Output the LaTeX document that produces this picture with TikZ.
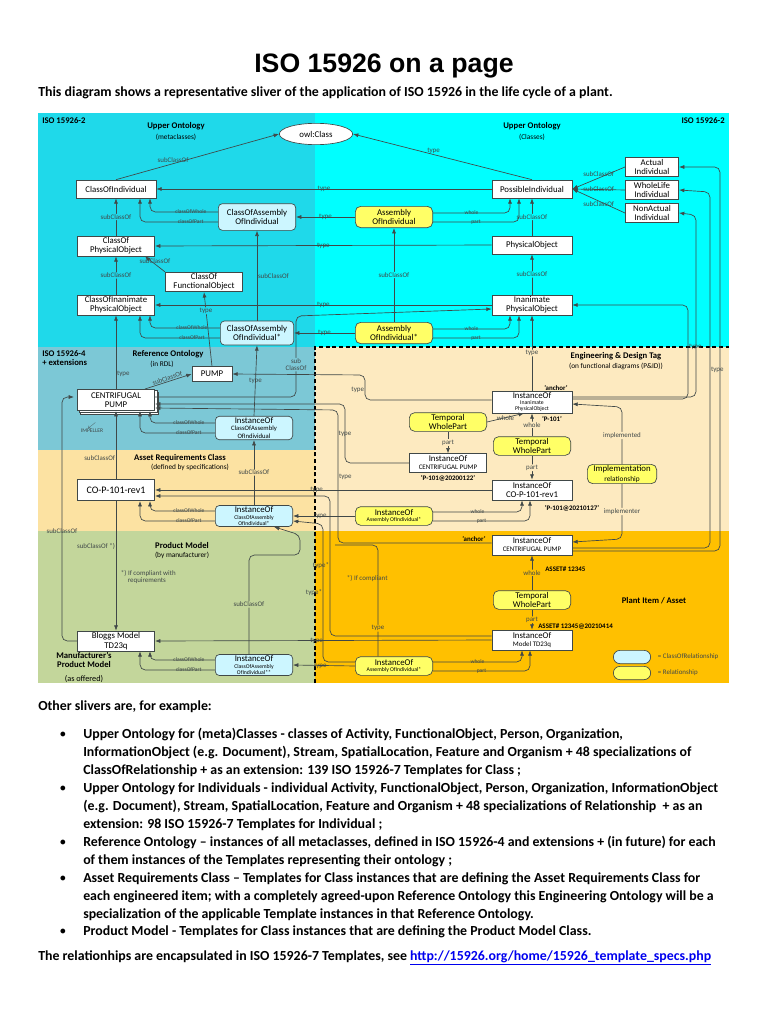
\documentclass[tikz,border=0pt]{standalone}
\usepackage{fontspec}
\setmainfont{Carlito}
\newfontfamily\titlefont{Liberation Sans}
\usetikzlibrary{arrows.meta,calc,shapes.geometric}
\definecolor{cyanL}{HTML}{1FD9EA}
\definecolor{cyanR}{HTML}{00FFFF}
\definecolor{refc}{HTML}{7CC8D6}
\definecolor{asrc}{HTML}{FCE2A2}
\definecolor{prodc}{HTML}{C3D69B}
\definecolor{engc}{HTML}{FDEAC0}
\definecolor{plantc}{HTML}{FFC000}
\definecolor{clsrel}{HTML}{CCF6FF}
\definecolor{relc}{HTML}{FFFF66}
\definecolor{lnc}{HTML}{404848}
\definecolor{linkc}{HTML}{0000EE}
\tikzset{
 base/.style={align=center,font=\fontsize{6.6}{7}\selectfont,inner sep=1pt,line width=0.5pt,draw=lnc},
 bx/.style 2 args={base,fill=white,minimum width=#1,minimum height=#2},
 cr/.style 2 args={base,fill=clsrel,rounded corners=3pt,minimum width=#1,minimum height=#2},
 rl/.style 2 args={base,fill=relc,rounded corners=4pt,minimum width=#1,minimum height=#2},
 ar/.style={draw=lnc,line width=0.5pt,-{Latex[length=4pt,width=3pt]},rounded corners=4pt},
 ln/.style={draw=lnc,line width=0.5pt,rounded corners=4pt},
 lb/.style={font=\fontsize{5.2}{5.5}\selectfont,text=lnc,inner sep=0.5pt},
 sl/.style={font=\fontsize{4.2}{4.5}\selectfont,text=lnc,inner sep=0.5pt},
 hd/.style={font=\bfseries\fontsize{6.5}{7}\selectfont,align=center,inner sep=0pt},
 sh/.style={font=\fontsize{5.5}{6}\selectfont,align=center,inner sep=0pt},
 bt/.style={anchor=west,font=\bfseries\fontsize{10.4}{12}\selectfont,inner sep=0pt},
 bul/.style={font=\fontsize{9}{10}\selectfont,inner sep=0pt},
}
\begin{document}
\begin{tikzpicture}[x=0.75pt,y=-0.75pt]
\useasboundingbox (0,0) rectangle (768,1024);
% backgrounds
\fill[cyanL] (38,113) rectangle (315,347);
\fill[cyanR] (315,113) rectangle (729,347);
\fill[refc] (38,347) rectangle (315,450);
\fill[asrc] (38,450) rectangle (315,531);
\fill[prodc] (38,531) rectangle (315,683);
\fill[engc] (315,347) rectangle (729,531);
\fill[plantc] (315,531) rectangle (729,683);
\draw[line width=1.8pt,dash pattern=on 3pt off 2pt] (315,683) -- (315,347) -- (729,347);
% title
\node[font=\titlefont\bfseries\fontsize{20}{22}\selectfont] (title) at (384,66) {ISO 15926 on a page};
\node[bt] (sub) at (38,93) {This diagram shows a representative sliver of the application of ISO 15926 in the life cycle of a plant.};
% body text
\node[bt] (t0) at (38,707) {Other slivers are, for example:};
\node[bul] (b1) at (63,735) {$\bullet$};
\node[bt] (t1a) at (83,735) {Upper Ontology for (meta)Classes - classes of Activity, FunctionalObject, Person, Organization,};
\node[bt] (t1b) at (83,753) {InformationObject (e.g. Document), Stream, SpatialLocation, Feature and Organism + 48 specializations of};
\node[bt] (t1c) at (83,771) {ClassOfRelationship + as an extension: 139 ISO 15926-7 Templates for Class ;};
\node[bul] (b2) at (63,789) {$\bullet$};
\node[bt] (t2a) at (83,789) {Upper Ontology for Individuals - individual Activity, FunctionalObject, Person, Organization, InformationObject};
\node[bt] (t2b) at (83,807) {(e.g. Document), Stream, SpatialLocation, Feature and Organism + 48 specializations of Relationship\ \ + as an};
\node[bt] (t2c) at (83,825) {extension: 98 ISO 15926-7 Templates for Individual ;};
\node[bul] (b3) at (63,843) {$\bullet$};
\node[bt] (t3a) at (83,843) {Reference Ontology -- instances of all metaclasses, defined in ISO 15926-4 and extensions + (in future) for each};
\node[bt] (t3b) at (83,861) {of them instances of the Templates representing their ontology ;};
\node[bul] (b4) at (63,879) {$\bullet$};
\node[bt] (t4a) at (83,879) {Asset Requirements Class -- Templates for Class instances that are defining the Asset Requirements Class for};
\node[bt] (t4b) at (83,897) {each engineered item; with a completely agreed-upon Reference Ontology this Engineering Ontology will be a};
\node[bt] (t4c) at (83,915) {specialization of the applicable Template instances in that Reference Ontology.};
\node[bul] (b5) at (63,932) {$\bullet$};
\node[bt] (t5a) at (83,932) {Product Model - Templates for Class instances that are defining the Product Model Class.};
\node[bt] (t6) at (38,958) {The relationhips are encapsulated in ISO 15926-7 Templates, see \textcolor{linkc}{\underline{http://15926.org/home/15926\_template\_specs.php}}};
% region headers
\node[hd,anchor=north west] (h1) at (42,117) {ISO 15926-2};
\node[hd,anchor=north east] (h2) at (725,117) {ISO 15926-2};
\node[hd] (h3) at (176,126) {Upper Ontology};
\node[sh] (h3b) at (176,137) {(metaclasses)};
\node[hd] (h4) at (532,126) {Upper Ontology};
\node[sh] (h4b) at (532,137) {(Classes)};
\node[hd,anchor=north west,align=left] (h5) at (42,350) {ISO 15926-4\\+ extensions};
\node[hd] (h6) at (168,354) {Reference Ontology};
\node[sh] (h6b) at (162,364) {(in RDL)};
\node[hd] (h7) at (180,458) {Asset Requirements Class};
\node[sh] (h7b) at (190,467) {(defined by specifications)};
\node[hd] (h8) at (182,545) {Product Model};
\node[sh] (h8b) at (182,555) {(by manufacturer)};
\node[hd] (h9) at (84,660) {Manufacturer's\\Product Model};
\node[sh,font=\fontsize{6.2}{7}\selectfont] (h9b) at (84,679) {(as offered)};
\node[hd] (h10) at (616,356) {Engineering \& Design Tag};
\node[sh] (h10b) at (616,366) {(on functional diagrams (P\&ID))};
\node[hd] (h11) at (654,601) {Plant Item / Asset};
% upper left
\node[base,ellipse,fill=white,minimum width=55pt,minimum height=16pt] (owl) at (316,134) {owl:Class};
\node[bx={60pt}{13.5pt}] (coi) at (116,189) {ClassOfIndividual};
\node[cr={58pt}{20pt}] (coa) at (257,217) {ClassOfAssembly\\OfIndividual};
\node[bx={58pt}{15pt}] (cpo) at (116,246) {ClassOf\\PhysicalObject};
\node[bx={58pt}{14pt}] (cfo) at (204,282) {ClassOf\\FunctionalObject};
\node[bx={58pt}{15pt}] (cio) at (116,305) {ClassOfInanimate\\PhysicalObject};
\node[cr={55pt}{18pt}] (coas) at (257,333) {ClassOfAssembly\\OfIndividual*};
% upper right
\node[rl={58pt}{16pt}] (aoi) at (394,217) {Assembly\\OfIndividual};
\node[rl={58pt}{16pt}] (aois) at (394,333) {Assembly\\OfIndividual*};
\node[bx={60pt}{13.5pt}] (pi) at (532,189) {PossibleIndividual};
\node[bx={60pt}{13.5pt}] (po) at (532,245) {PhysicalObject};
\node[bx={60pt}{15pt}] (ipo) at (532,305) {Inanimate\\PhysicalObject};
\node[bx={40pt}{14pt}] (act) at (652,167) {Actual\\Individual};
\node[bx={40pt}{14pt}] (wli) at (652,190) {WholeLife\\Individual};
\node[bx={40pt}{14pt}] (nai) at (652,213) {NonActual\\Individual};
% reference
\node[bx={30pt}{11pt}] (pump) at (212,374) {PUMP};
\fill[white,draw=lnc,line width=0.4pt] (80,392) rectangle (158,414);
\fill[white,draw=lnc,line width=0.4pt] (79,390) rectangle (157,412);
\node[bx={58pt}{16pt}] (cp) at (116,400) {CENTRIFUGAL\\PUMP};
\node[sl,align=center] (imp) at (92,428) {$\swarrow$\\[-1pt]IMPELLER};
\node[cr={58pt}{14pt},font=\fontsize{5}{5.5}\selectfont] (ico) at (254,428) {{\fontsize{6.6}{7}\selectfont InstanceOf}\\ClassOfAssembly\\OfIndividual};
% asset req
\node[bx={58pt}{16pt},font=\fontsize{7.5}{8}\selectfont] (cop) at (116,490) {CO-P-101-rev1};
\node[cr={58pt}{14pt},font=\fontsize{4.3}{4.6}\selectfont] (icos) at (254,516) {{\fontsize{6.6}{7}\selectfont InstanceOf}\\ClassOfAssembly\\OfIndividual*};
% product
\node[bx={58pt}{15pt}] (blg) at (116,641) {Bloggs Model\\TD23q};
\node[cr={58pt}{14pt},font=\fontsize{4.3}{4.6}\selectfont] (icoss) at (254,665) {{\fontsize{6.6}{7}\selectfont InstanceOf}\\ClassOfAssembly\\OfIndividual**};
\node[lb,align=left,anchor=north west] (comp1) at (120,569) {*) If compliant with\\\quad requirements};
% engineering
\node[bx={60pt}{14pt},font=\fontsize{4.3}{4.6}\selectfont] (ioi) at (532,402) {{\fontsize{6.6}{7}\selectfont InstanceOf}\\Inanimate\\PhysicalObject};
\node[rl={58pt}{14pt}] (twp1) at (448,422) {Temporal\\WholePart};
\node[rl={58pt}{14pt}] (twp2) at (532,446) {Temporal\\WholePart};
\node[bx={58pt}{14pt},font=\fontsize{5.2}{6}\selectfont] (iocp) at (448,463) {{\fontsize{6.6}{7}\selectfont InstanceOf}\\CENTRIFUGAL PUMP};
\node[bx={60pt}{15pt}] (ioco) at (532,490) {InstanceOf\\CO-P-101-rev1};
\node[rl={52pt}{14pt}] (imr) at (622,474) {Implementation\\{\fontsize{5.5}{6}\selectfont relationship}};
\node[rl={58pt}{14pt},font=\fontsize{4.3}{4.6}\selectfont] (ias) at (394,516) {{\fontsize{6.6}{7}\selectfont InstanceOf}\\Assembly OfIndividual*};
\node[hd,font=\bfseries\fontsize{5.2}{6}\selectfont] (anc1) at (556,388) {'anchor'};
\node[hd,font=\bfseries\fontsize{5.2}{6}\selectfont] (p101) at (552,419) {'P-101'};
\node[hd,font=\bfseries\fontsize{5.2}{6}\selectfont] (p1a) at (448,478) {'P-101@20200122'};
\node[hd,font=\bfseries\fontsize{5.2}{6}\selectfont] (p1b) at (572,508) {'P-101@20210127'};
% plant
\node[bx={60pt}{15pt},font=\fontsize{5.2}{6}\selectfont] (pcp) at (532,545) {{\fontsize{6.6}{7}\selectfont InstanceOf}\\CENTRIFUGAL PUMP};
\node[rl={58pt}{14pt}] (twp3) at (532,600) {Temporal\\WholePart};
\node[bx={60pt}{15pt},font=\fontsize{5.2}{6}\selectfont] (pm) at (532,640) {{\fontsize{6.6}{7}\selectfont InstanceOf}\\Model TD23q};
\node[rl={58pt}{14pt},font=\fontsize{4.3}{4.6}\selectfont] (pas) at (394,666) {{\fontsize{6.6}{7}\selectfont InstanceOf}\\Assembly OfIndividual*};
\node[hd,font=\bfseries\fontsize{5.2}{6}\selectfont] (anc2) at (474,539) {'anchor'};
\node[hd,font=\bfseries\fontsize{5.2}{6}\selectfont,anchor=west] (as1) at (545,569) {ASSET\# 12345};
\node[hd,font=\bfseries\fontsize{5.2}{6}\selectfont,anchor=west] (as2) at (538,627) {ASSET\# 12345@20210414};
\node[lb,anchor=west] (comp2) at (346,579) {*) If compliant};
% legend
\node[cr={28pt}{10pt},rounded corners=5pt] (lg1) at (632,657) {};
\node[rl={28pt}{10pt},rounded corners=5pt] (lg2) at (632,673) {};
\node[lb,anchor=west] (lg1t) at (657,657) {= ClassOfRelationship};
\node[lb,anchor=west] (lg2t) at (657,673) {= Relationship};

% ===== connectors upper
\draw[ar] (coi.north) -- node[lb,pos=0.35,above] {subClassOf} (owl.west);
\draw[ar] (pi.north) -- node[lb,pos=0.55,above] {type} (owl.east);
\draw[ar] (pi.west) -- node[lb,pos=0.5] {type} (coi.east);
\draw[ar] (aoi.west) -- node[lb] {type} (coa.east);
\draw[ar] (po.west) -- node[lb,pos=0.5] {type} (cpo.east);
\draw[ar] (ipo.west) -- node[lb,pos=0.5] {type} (cio.east);
\draw[ar] (aois.west) -- node[lb] {type} (coas.east);
\draw[ar] (cpo.north) -- node[lb,fill=cyanL] {subClassOf} (coi.south);
\draw[ar] (cio.north) -- node[lb,fill=cyanL] {subClassOf} (cpo.south);
\draw[ar] (cfo.north west) -- node[lb,above] {subClassOf} ($(cpo.south east)+(-10,0)$);
\draw[ar] ($(coa.west)+(0,-5)$) -- node[sl,pos=0.4] {classOfWhole} (150,212) -- ($(coi.south)+(34,0)$);
\draw[ar] ($(coa.west)+(0,5)$) -- node[sl,pos=0.35] {classOfPart} (140,222) -- ($(coi.south)+(24,0)$);
\draw[ar] ($(coas.west)+(0,-5)$) -- node[sl,pos=0.4] {classOfWhole} (150,328) -- ($(cio.south)+(34,0)$);
\draw[ar] ($(coas.west)+(0,5)$) -- node[sl,pos=0.35] {classOfPart} (140,338) -- ($(cio.south)+(24,0)$);
\draw[ar] (coas.north) -- node[lb,pos=0.5,right] {subClassOf} (coa.south);
\draw[ar] (aois.north) -- node[lb,fill=cyanR] {subClassOf} (aoi.south);
\draw[ar] (po.north) -- node[lb,fill=cyanR] {subClassOf} (pi.south);
\draw[ar] (ipo.north) -- node[lb,fill=cyanR] {subClassOf} (po.south);
\draw[ar] (act.west) -- node[lb,above] {subClassOf} (pi.east);
\draw[ar] (wli.west) -- node[lb] {subClassOf} (pi.east);
\draw[ar] (nai.west) -- node[lb,below] {subClassOf} (pi.east);
\draw[ar] ($(aoi.east)+(0,-4)$) -- node[sl] {whole} (510,213) -- ($(pi.south)+(-22,0)$);
\draw[ar] ($(aoi.east)+(0,5)$) -- node[sl] {part} (519,222) -- ($(pi.south)+(-13,0)$);
\draw[ar] ($(aois.east)+(0,-4)$) -- node[sl] {whole} (510,329) -- ($(ipo.south)+(-22,0)$);
\draw[ar] ($(aois.east)+(0,5)$) -- node[sl] {part} (519,338) -- ($(ipo.south)+(-13,0)$);
% reference
\draw[ar] (pump.north) -- node[lb,fill=cyanL,pos=0.75] {type} (cfo.south);
\draw[ar] ($(cp.north east)+(-10,0)$) -- node[lb,above,sloped] {subClassOf} (pump.west);
\draw[ar] (cp.north) -- node[lb,pos=0.2,right] {type} (cio.south);
\draw[ar] (ico.north) -- node[lb,pos=0.5] {type} (coas.south);
\draw[ar] ($(cp.east)+(0,-3)$) -- (296,397) -- node[lb,pos=0.4,align=center,fill=refc] {sub\\ClassOf} (296,316) -- ($(ipo.west)+(0,4)$);
\draw[ar] ($(ico.west)+(0,-5)$) -- node[sl,pos=0.4] {classOfWhole} (150,423) -- ($(cp.south)+(34,0)$);
\draw[ar] ($(ico.west)+(0,5)$) -- node[sl,pos=0.35] {classOfPart} (140,433) -- ($(cp.south)+(24,0)$);
\draw[ar] (icos.north) -- node[lb,fill=asrc] {subClassOf} (ico.south);
\draw[ar] (cop.north) -- node[lb,pos=0.3,left] {subClassOf} (cp.south);
\draw[ar] ($(icos.west)+(0,-5)$) -- node[sl,pos=0.4] {classOfWhole} (150,511) -- ($(cop.south)+(34,0)$);
\draw[ar] ($(icos.west)+(0,5)$) -- node[sl,pos=0.35] {classOfPart} (140,521) -- ($(cop.south)+(24,0)$);
\draw[ar] (cop.south) -- node[lb,pos=0.35,left] {subClassOf *)} (blg.north);
\draw[ar] (blg.west) -- (62,641) -- node[lb,pos=0.45] {subClassOf} (62,397) -- ($(cp.west)+(-3,-3)$);
\draw[ar] ($(icoss.north)+(-5,0)$) -- node[lb,fill=prodc] {subClassOf} (249,555) -- (300,555) -- (300,535) -- ($(icos.south)+(20,0)$);
\draw[ar] ($(icoss.west)+(0,-5)$) -- node[sl,pos=0.4] {classOfWhole} (150,660) -- ($(blg.south)+(34,0)$);
\draw[ar] ($(icoss.west)+(0,5)$) -- node[sl,pos=0.35] {classOfPart} (140,670) -- ($(blg.south)+(24,0)$);
% engineering
\draw[ar] (ioi.north) -- node[lb,fill=engc] {type} (ipo.south);
\draw[ar] ($(ioi.west)+(0,-2)$) -- (365,400) -- node[lb,pos=0.4,left] {type} (365,375) -- (pump.east);
\draw[ar] ($(iocp.west)+(0,0)$) -- (345,463) -- node[lb,pos=0.5] {type} (345,404) -- ($(cp.east)+(0,4)$);
\draw[ar] (twp1.east) -- node[lb] {whole} ($(ioi.south)+(-8,0)$);
\draw[ar] (twp1.south) -- node[lb,fill=engc] {part} (iocp.north);
\draw[ar] (twp2.north) -- node[lb,fill=engc] {whole} (ioi.south);
\draw[ar] (twp2.south) -- node[lb,fill=engc] {part} (ioco.north);
\draw[ar] (ioco.west) -- node[lb,pos=0.52] {type} (cop.east);
\draw[ar] (ias.west) -- node[lb,pos=0.56] {type} (icos.east);
\draw[ar] ($(ias.east)+(0,-4)$) -- node[sl] {whole} (522,512) -- ($(ioco.south)+(-10,0)$);
\draw[ar] ($(ias.east)+(0,5)$) -- node[sl] {part} (530,521) -- ($(ioco.south)+(-2,0)$);
\draw[ar] (imr.north) -- node[lb,fill=engc] {implemented} (622,407) -- ($(ioi.east)+(0,2)$);
\draw[ar] (imr.south) -- node[lb,fill=engc] {implementer} (622,539) -- ($(pcp.east)+(0,-3)$);
\draw[ar] ($(ioi.east)+(0,-3)$) -- (688,399) -- node[lb,pos=0.55,right] {type} (688,305) -- (ipo.east);
\draw[ar] ($(ioi.east)+(0,-5)$) -- (696,397) -- (696,215) -- (nai.east);
% plant
\draw[ar] (twp3.north) -- node[lb,fill=plantc] {whole} (pcp.south);
\draw[ar] (twp3.south) -- node[lb,fill=plantc] {part} (pm.north);
\draw[ar] (pm.west) -- node[lb,pos=0.52] {type} (blg.east);
\draw[ar] (pas.west) -- node[lb,pos=0.56] {type} (icoss.east);
\draw[ar] ($(pas.east)+(0,-4)$) -- node[sl] {whole} (522,662) -- ($(pm.south)+(-10,0)$);
\draw[ar] ($(pas.east)+(0,5)$) -- node[sl] {part} (530,671) -- ($(pm.south)+(-2,0)$);
\draw[ar] ($(pm.west)+(0,-4)$) -- (330,636) -- node[lb,pos=0.5,left] {type*} (330,496) -- ($(cop.east)+(0,6)$);
\draw[ar] ($(pas.west)+(0,-4)$) -- (323,662) -- node[lb,pos=0.5,left] {type*} (323,524) -- ($(icos.east)+(0,5)$);
\draw[ar] ($(pcp.west)+(0,-2)$) -- (338,543) -- node[lb,pos=0.5,right] {type} (338,410) -- ($(cp.east)+(0,8)$);
\draw[ar] ($(pcp.east)+(0,3)$) -- (710,548) -- node[lb,pos=0.5,right] {type} (710,192) -- (wli.east);
\draw[ar] ($(pcp.east)+(0,6)$) -- (720,551) -- (720,167) -- (act.east);
\draw[ln] ($(pas.north)+(-16,0)$) -- node[lb,fill=plantc] {type} (378,600) -- (378,545) -- (335,545);
\end{tikzpicture}
\end{document}
